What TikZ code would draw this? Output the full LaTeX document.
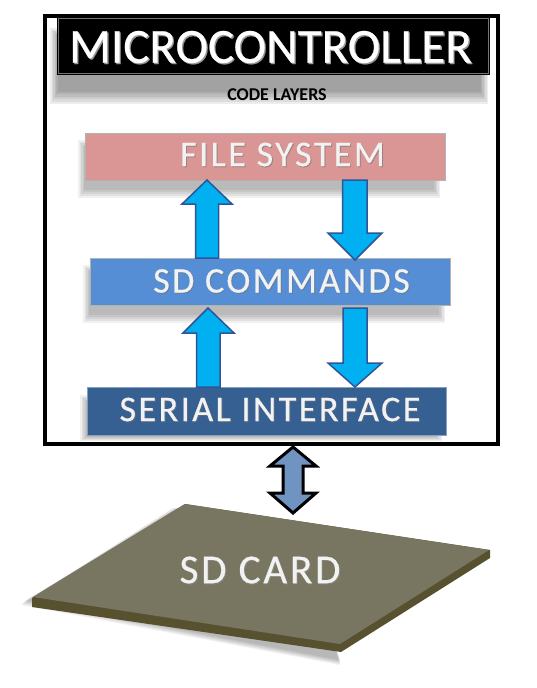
\documentclass[tikz,border=0pt]{standalone}
\usepackage{fontspec}
\setmainfont{Carlito}
\newfontfamily\spaced[LetterSpace=7,FakeBold=0.6]{Carlito}
\newfontfamily\titlefont[FakeBold=0.5]{Carlito}
\usetikzlibrary{calc}
\definecolor{fsfill}{HTML}{D99694}
\definecolor{sdcfill}{HTML}{558ED5}
\definecolor{serfill}{HTML}{376092}
\definecolor{arrfill}{HTML}{00B0F0}
\definecolor{arrline}{HTML}{2F5597}
\definecolor{dblfill}{HTML}{7094C2}
\definecolor{cardtop}{HTML}{787660}
\definecolor{cardedge}{HTML}{57512F}
\definecolor{txtlight}{HTML}{F2F2F2}
\tikzset{
  layerbox/.style={draw=white!70!black, line width=0.8pt, inner sep=0pt},
  layertext/.style={text=txtlight, font=\spaced\fontsize{36}{36}\selectfont, inner sep=0pt},
  shadowtext/.style={text=black!55, font=\spaced\fontsize{36}{36}\selectfont, inner sep=0pt, opacity=0.5},
  blockarrow/.style={fill=arrfill, draw=arrline, line width=1.5pt, line join=miter},
  dblarrow/.style={fill=dblfill, draw=black, line width=3pt, line join=miter},
}
\begin{document}
\begin{tikzpicture}[x=1pt,y=-1pt]
\useasboundingbox (0,0) rectangle (536,688);
\fill[white] (0,0) rectangle (536,688);

% outer frame
\draw[line width=4pt] (45,16) rectangle (498,444);

% title shadow
\foreach \k in {0,...,5}{
  \fill[black, opacity=0.07] ($(50,28)+(\k*1.5,\k*1.5)$) rectangle ($(488,104)-(\k*1.5,\k*2.5)$);
}
% title box
\fill[black] (57,17) rectangle (490,75);
\draw[white!45!black, line width=1.2pt] (58.5,18.5) rectangle (488.5,73.5);
\node[text=black!40, font=\titlefont\fontsize{49}{49}\selectfont, inner sep=0pt] at (271.8,48.3) {MICROCONTROLLER};
\node (title) [text=white, font=\titlefont\fontsize{49}{49}\selectfont, inner sep=0pt] at (270.5,47) {MICROCONTROLLER};
\node (codelayers) [font=\bfseries\fontsize{18}{18}\selectfont, inner sep=0pt] at (277,94.5) {CODE LAYERS};

% layer shadows
\foreach \k in {0,...,4}{
  \fill[black, opacity=0.06] ($(78,140)+(\k*1.5,\k*1.5)$) rectangle ($(440,198)-(\k*1.5,\k*2)$);
  \fill[black, opacity=0.06] ($(83,265)+(\k*1.5,\k*1.5)$) rectangle ($(445,323)-(\k*1.5,\k*2)$);
  \fill[black, opacity=0.06] ($(80,395)+(\k*1.5,\k*1.5)$) rectangle ($(442,441)-(\k*1.5,\k*1)$);
}

% layer boxes
\node (fs) [layerbox, fill=fsfill, minimum width=360pt, minimum height=47pt, anchor=north west] at (85,133) {};
\node (sdc) [layerbox, fill=sdcfill, minimum width=360pt, minimum height=47pt, anchor=north west] at (90,258) {};
\node (ser) [layerbox, fill=serfill, draw=serfill!60!white, minimum width=359pt, minimum height=48pt, anchor=north west] at (87,387) {};

\node[shadowtext] at (283.5,155.5) {FILE SYSTEM};
\node (fstext) [layertext] at (282.5,154.5) {FILE SYSTEM};
\node[shadowtext] at (282.5,282) {SD COMMANDS};
\node (sdctext) [layertext] at (281.5,281) {SD COMMANDS};
\node[shadowtext] at (271,410.5) {SERIAL INTERFACE};
\node (sertext) [layertext] at (270,409.5) {SERIAL INTERFACE};

% up arrow FS <- SDC
\draw[blockarrow] (195.5,258) -- (195.5,204) -- (182,204) -- (207,180) -- (232,204) -- (218.5,204) -- (218.5,258) -- cycle;
% down arrow FS -> SDC
\draw[blockarrow] (342.5,180) -- (342.5,233) -- (328,233) -- (355,260) -- (382,233) -- (367,233) -- (367,180) -- cycle;
% up arrow SDC <- SER
\draw[blockarrow] (196.5,387) -- (196.5,333) -- (183,333) -- (208,308) -- (234,333) -- (220,333) -- (220,387) -- cycle;
% down arrow SDC -> SER
\draw[blockarrow] (343,308) -- (343,363) -- (328,363) -- (355,387) -- (382,363) -- (367,363) -- (367,308) -- cycle;

% double arrow
\draw[dblarrow] (293,447) -- (316,466) -- (303,466) -- (303,493) -- (316,493) -- (293,513) -- (270,493) -- (283,493) -- (283,466) -- (270,466) -- cycle;

% SD card shadow
\foreach \k in {0,...,5}{
  \fill[black, opacity=0.05] ($(26,600)+(-\k,\k)$) -- ($(180,508)+(-\k*1.5,0)$) -- (300,530) -- ($(340,660)+(0,\k)$) -- cycle;
}
% SD card
\fill[cardedge] (32,598) -- (185,504) -- (490,550) -- (490,558) -- (341,652) -- (32,607) -- cycle;
\fill[cardtop] (33,597) -- (185,504) -- (489,550) -- (340,644) -- cycle;
\node[text=black!45, font=\spaced\fontsize{41}{41}\selectfont, inner sep=0pt, opacity=0.6] at (261,571) {SD CARD};
\node (card) [text=txtlight, font=\spaced\fontsize{41}{41}\selectfont, inner sep=0pt] at (260,570) {SD CARD};
\end{tikzpicture}
\end{document}
